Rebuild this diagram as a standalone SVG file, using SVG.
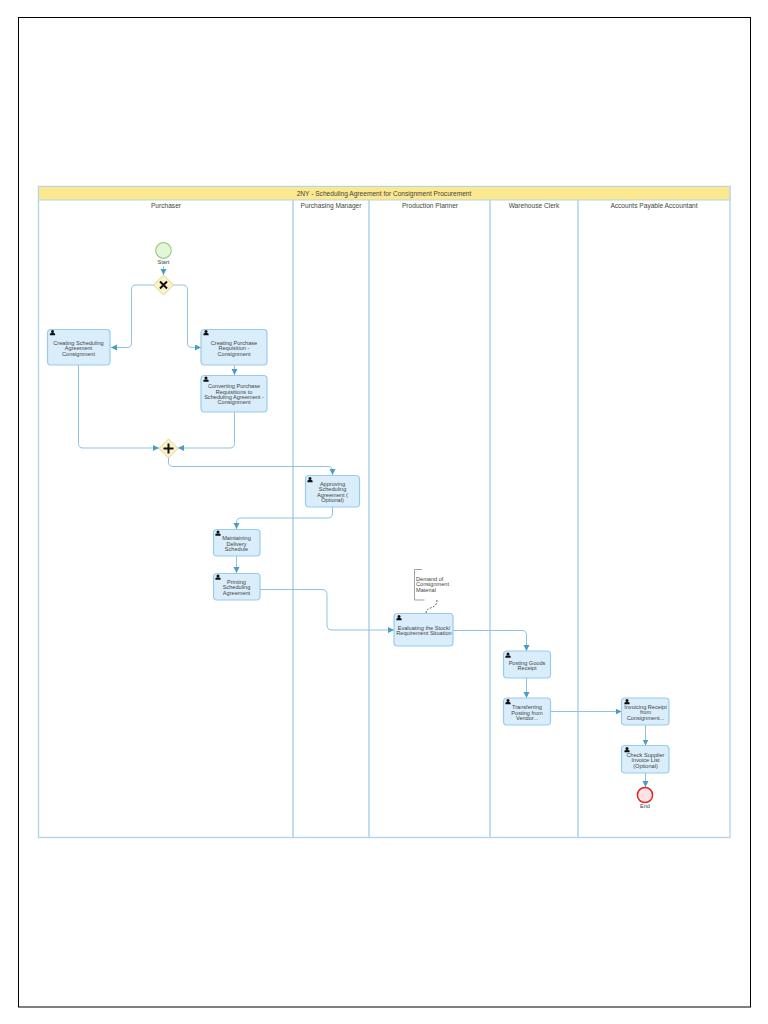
<svg xmlns="http://www.w3.org/2000/svg" width="768" height="1024" viewBox="0 0 768 1024">
<style>
text{font-family:"Liberation Sans",Arial,sans-serif;font-size:5.6px;fill:#444;text-anchor:middle}
.lane{font-size:6.6px}
.task{fill:#d9edfb;stroke:#9accea;stroke-width:1.2}
.conn{fill:none;stroke:#8fc3e0;stroke-width:1;marker-end:url(#arr)}
.div{stroke:#b5d5e9;stroke-width:1.6}
.gw{fill:#fdf3c8;stroke:#e0cf94;stroke-width:1}
</style>
<defs>
<marker id="arr" markerUnits="userSpaceOnUse" markerWidth="7" markerHeight="7" refX="6" refY="3" orient="auto"><path d="M0,0L6,3L0,6Z" fill="#4a9cc7"/></marker>
<g id="user"><circle cx="0" cy="-1.4" r="1.5" fill="#111"/><path d="M-2.6,2.2V0.9Q-2.6,0 -1,0H1Q2.6,0 2.6,0.9V2.2Z" fill="#111"/></g>
</defs>
<rect x="18.5" y="17.5" width="732" height="989.5" fill="#fff" stroke="#000" stroke-width="1"/>
<g id="pool">
<rect x="38.5" y="186.5" width="691.5" height="651" fill="#fff" stroke="#b5d5e9" stroke-width="1.4"/>
<rect x="38.5" y="186.5" width="691.5" height="13.5" fill="#fbe88f" stroke="#b5d5e9" stroke-width="1"/>
<text class="lane" x="384" y="195.500">2NY - Scheduling Agreement for Consignment Procurement</text>
<line class="div" x1="293" y1="200" x2="293" y2="837.5"/>
<line class="div" x1="369" y1="200" x2="369" y2="837.5"/>
<line class="div" x1="490" y1="200" x2="490" y2="837.5"/>
<line class="div" x1="578" y1="200" x2="578" y2="837.5"/>
<text class="lane" x="166" y="208">Purchaser</text>
<text class="lane" x="331" y="208">Purchasing Manager</text>
<text class="lane" x="430" y="208">Production Planner</text>
<text class="lane" x="534" y="208">Warehouse Clerk</text>
<text class="lane" x="654" y="208">Accounts Payable Accountant</text>
</g>
<g id="connectors">
<path class="conn" d="M163.5,266V275"/>
<path class="conn" d="M153.5,285H136Q131.500,285 131.500,289.500V343Q131.500,347.500 127,347.500H111"/>
<path class="conn" d="M173.500,285H183Q187.500,285 187.500,289.500V343Q187.500,347.500 192,347.500H201"/>
<path class="conn" d="M234.500,365V375"/>
<path class="conn" d="M78.500,365V443.500Q78.500,448 83,448H159"/>
<path class="conn" d="M234.500,412V443.500Q234.500,448 230,448H178"/>
<path class="conn" d="M168.500,458V462Q168.500,466.500 173,466.500H328Q332.500,466.500 332.500,471V475"/>
<path class="conn" d="M332.500,507V513.500Q332.500,518 328,518H241Q236.500,518 236.500,522.500V529"/>
<path class="conn" d="M236.500,556V573"/>
<path class="conn" d="M260,589.500H322Q327,589.500 327,594.500V625Q327,630 332,630H394"/>
<path class="conn" d="M453,630.500H522Q526.500,630.500 526.500,635V651"/>
<path class="conn" d="M526.500,678V698"/>
<path class="conn" d="M550.500,711.500H621.500"/>
<path class="conn" d="M645.500,725V745.500"/>
<path class="conn" d="M645.500,773V787"/>
<path fill="none" stroke="#333" stroke-width="0.8" stroke-dasharray="1.800,1.500" d="M426,613C426,606 437,610 437,600"/>
</g>
<g id="start"><circle cx="163.500" cy="250.500" r="7.800" fill="#e4f6d8" stroke="#9ccf85" stroke-width="1.200"/><text x="163.500" y="263.700">Start</text></g>
<g id="gateway-xor"><path class="gw" d="M163.500,275L173.500,285L163.500,295L153.500,285Z"/><path d="M160,281.500L167,288.500M167,281.500L160,288.500" stroke="#111" stroke-width="2" fill="none"/></g>
<g id="task-scheduling"><rect class="task" x="47.500" y="329.500" width="62.500" height="35.500" rx="3.500"/><use href="#user" x="52.500" y="333"/><text x="78.500" y="345">Creating Scheduling</text><text x="78.500" y="350.300">Agreement</text><text x="78.500" y="355.700">Consignment</text></g>
<g id="task-requisition"><rect class="task" x="201" y="329.500" width="66" height="35.500" rx="3.500"/><use href="#user" x="206" y="333"/><text x="234" y="345">Creating Purchase</text><text x="234" y="350.300">Requisition -</text><text x="234" y="355.700">Consignment</text></g>
<g id="task-converting"><rect class="task" x="201" y="375.500" width="66" height="36.500" rx="3.500"/><use href="#user" x="206" y="379.500"/><text x="234" y="388.300">Converting Purchase</text><text x="234" y="393.700">Requisitions to</text><text x="234" y="399">Scheduling Agreement -</text><text x="234" y="404.300">Consignment</text></g>
<g id="gateway-and"><path class="gw" d="M168.500,439L178,448.500L168.500,458L159,448.500Z"/><path d="M168.500,443.500V453.500M163.500,448.500H173.500" stroke="#111" stroke-width="2" fill="none"/></g>
<g id="task-approving"><rect class="task" x="305.500" y="475.500" width="54" height="31.500" rx="3.500"/><use href="#user" x="310" y="480"/><text x="332.500" y="486">Approving</text><text x="332.500" y="491.300">Scheduling</text><text x="332.500" y="496.700">Agreement (</text><text x="332.500" y="502">Optional)</text></g>
<g id="task-maintaining"><rect class="task" x="213.500" y="529.500" width="46.500" height="26.500" rx="3.500"/><use href="#user" x="218" y="533.500"/><text x="236.500" y="540.300">Maintaining</text><text x="236.500" y="545.700">Delivery</text><text x="236.500" y="550.700">Schedule</text></g>
<g id="task-printing"><rect class="task" x="213.500" y="573.500" width="46.500" height="26.500" rx="3.500"/><use href="#user" x="218" y="577.500"/><text x="236.500" y="584">Printing</text><text x="236.500" y="589.300">Scheduling</text><text x="236.500" y="594.700">Agreement</text></g>
<g id="annotation"><path d="M422,569.500H414.500V600H424.500" fill="none" stroke="#999" stroke-width="0.900"/><text x="416" y="581" style="text-anchor:start">Demand of</text><text x="416" y="586.300" style="text-anchor:start">Consignment</text><text x="416" y="591.500" style="text-anchor:start">Material</text></g>
<g id="task-evaluating"><rect class="task" x="394" y="613.500" width="59" height="32.500" rx="3.500"/><use href="#user" x="399" y="618"/><text x="424" y="630">Evaluating the Stock/</text><text x="424" y="635.300">Requirement Situation</text></g>
<g id="task-posting"><rect class="task" x="503.500" y="651" width="47" height="27" rx="3.500"/><use href="#user" x="508" y="655.500"/><text x="527" y="664.700">Posting Goods</text><text x="527" y="670">Receipt</text></g>
<g id="task-transferring"><rect class="task" x="503.500" y="698" width="47" height="27" rx="3.500"/><use href="#user" x="508" y="702"/><text x="527" y="709">Transferring</text><text x="527" y="714.700">Posting from</text><text x="527" y="720.300">Vendor...</text></g>
<g id="task-invoicing"><rect class="task" x="621.500" y="698" width="47.500" height="27" rx="3.500"/><use href="#user" x="627" y="702"/><text x="645.500" y="709">Invoicing Receipt</text><text x="645.500" y="714.200">from</text><text x="645.500" y="720.300">Consignment...</text></g>
<g id="task-check"><rect class="task" x="621.500" y="745.500" width="47.500" height="27.500" rx="3.500"/><use href="#user" x="627" y="750"/><text x="645.500" y="757">Check Supplier</text><text x="645.500" y="762.300">Invoice List</text><text x="645.500" y="767.700">(Optional)</text></g>
<g id="end"><circle cx="645" cy="795" r="7.600" fill="#fde3e3" stroke="#e0272b" stroke-width="1.500"/><text x="645" y="808">End</text></g>
</svg>
